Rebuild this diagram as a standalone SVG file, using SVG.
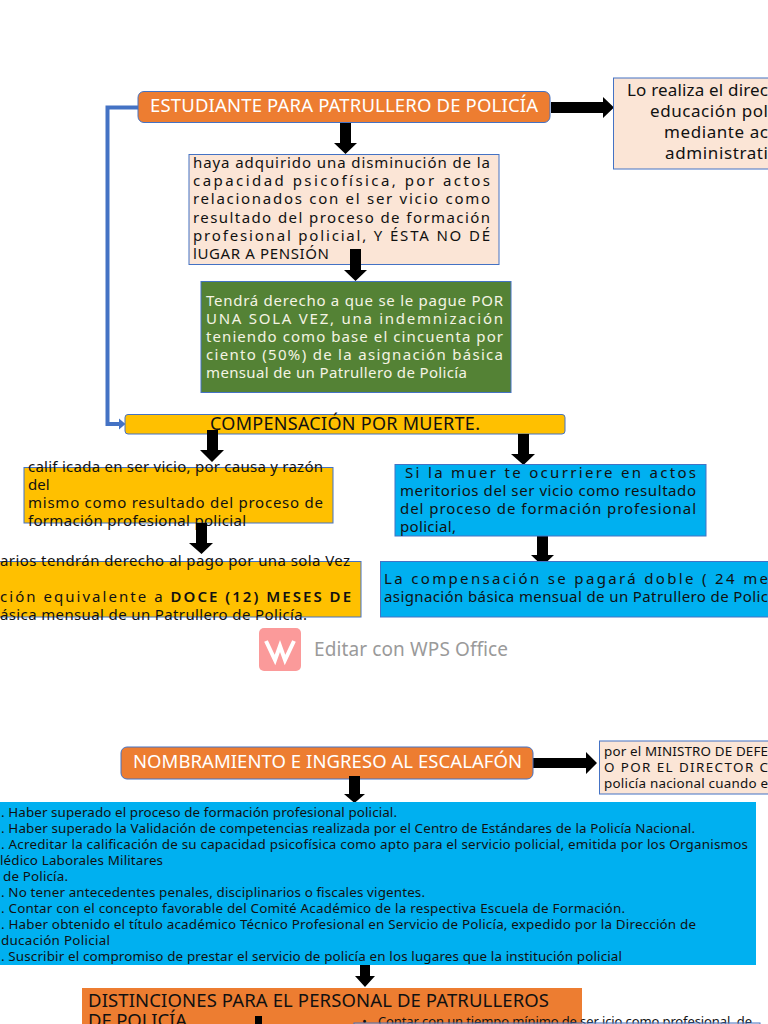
<svg xmlns="http://www.w3.org/2000/svg" width="768" height="1024" viewBox="0 0 768 1024">
<style>
text{font-family:"Noto Sans","Open Sans",sans-serif;fill:#111}
.b{stroke:#4472c4;stroke-width:1}
.t15{font-size:15px}
.t13{font-size:13.400px}
.w{fill:#f4f4e4}
.h{font-size:18.500px;fill:#fff}
.d{font-size:17px}
.arrow{fill:#000}
</style>
<rect width="768" height="1024" fill="#fff"/>
<g id="connectors">
<path d="M138 107.500H107.500V424H120" fill="none" stroke="#4472c4" stroke-width="4"/>
<path d="M119 418.500L125.500 424L119 429.500Z" fill="#4472c4"/>
<path class="arrow" d="M551 102H603V97L614 107.500L603 118V113H551Z"/>
<path class="arrow" d="M340 122H351V143H357L345.500 154L334 143H340Z"/>
<path class="arrow" d="M533 758H586V752L597 763L586 774V768H533Z"/>
<path class="arrow" d="M537 534H548V555H554L542.500 566L531 555H537Z"/>
<path class="arrow" d="M360 965H370V976H375L365 987L355 976H360Z"/>
</g>
<g id="n1"><rect class="b" x="138" y="91.500" width="412" height="31" rx="6" fill="#ed7d31"/><text class="h" x="150" y="112" textLength="388">ESTUDIANTE PARA PATRULLERO DE POLICÍA</text></g>
<g id="n2"><rect class="b" x="613.500" y="78" width="170" height="91" fill="#fbe5d6"/>
<text class="d" x="627" y="96" textLength="141">Lo realiza el direc</text>
<text class="d" x="650" y="117" textLength="118">educación pol</text>
<text class="d" x="664" y="138" textLength="104">mediante ac</text>
<text class="d" x="665" y="159" textLength="103">administrati</text></g>
<g id="n3"><rect class="b" x="189" y="154.500" width="310" height="110" fill="#fbe5d6"/>
<text class="t15" x="193" y="168" textLength="297">haya adquirido una disminución de la</text>
<text class="t15" x="193" y="186" textLength="297">capacidad psicofísica, por actos</text>
<text class="t15" x="193" y="204" textLength="297">relacionados con el ser  vicio como</text>
<text class="t15" x="193" y="223" textLength="297">resultado del proceso de formación</text>
<text class="t15" x="193" y="241" textLength="297">profesional policial, Y ÉSTA NO DÉ</text>
<text class="t15" x="193" y="259" textLength="136">lUGAR A PENSIÓN</text></g>
<path class="arrow" d="M350 249H361V270H367L355.500 281L344 270H350Z"/>
<g id="n4"><rect class="b" x="201" y="281.500" width="310" height="111" fill="#548235"/>
<text class="t15 w" x="206" y="306" textLength="297">Tendrá derecho a que se le pague POR</text>
<text class="t15 w" x="206" y="324" textLength="297">UNA SOLA VEZ, una indemnización</text>
<text class="t15 w" x="206" y="342" textLength="297">teniendo como base el cincuenta por</text>
<text class="t15 w" x="206" y="360" textLength="297">ciento (50%) de la asignación básica</text>
<text class="t15 w" x="206" y="378" textLength="261">mensual de un Patrullero de Policía</text></g>
<g id="n5"><rect class="b" x="125" y="414.500" width="440" height="19.500" rx="3" fill="#ffc000"/>
<text x="210" y="430" font-size="18" textLength="270">COMPENSACIÓN POR MUERTE.</text></g>
<g id="n6"><rect class="b" x="24" y="467.500" width="309" height="55.500" fill="#ffc000"/>
<text class="t15" x="28" y="472" textLength="295">calif icada en ser  vicio, por causa y razón</text>
<text class="t15" x="28" y="490">del</text>
<text class="t15" x="28" y="508" textLength="295">mismo como resultado del proceso de</text>
<text class="t15" x="28" y="526" textLength="218">formación profesional policial</text></g>
<path class="arrow" d="M207 430H218V450H224L212 462L200 450H207Z"/>
<path class="arrow" d="M196 523H207V543H213L201.500 554L189 543H196Z"/>
<path class="arrow" d="M518 434H529V454H535L523.500 465L511 454H518Z"/>
<g id="n7"><rect class="b" x="395" y="464.500" width="311" height="71.500" fill="#00b0f0"/>
<text class="t15" x="405" y="478" textLength="291">Si la muer te ocurriere en actos</text>
<text class="t15" x="400" y="496" textLength="296">meritorios del ser  vicio como resultado</text>
<text class="t15" x="400" y="514" textLength="296">del proceso de formación profesional</text>
<text class="t15" x="400" y="532" textLength="56">policial,</text></g>
<g id="n8"><rect class="b" x="-2" y="561.500" width="363" height="55.500" fill="#ffc000"/>
<text class="t15" x="0" y="566" textLength="350">arios tendrán derecho al pago por una sola Vez</text>
<text class="t15" x="0" y="602" textLength="351">ción equivalente a <tspan font-weight="600">DOCE (12) MESES DE</tspan></text>
<text class="t15" x="0" y="620" textLength="307">ásica mensual de un Patrullero de Policía.</text></g>
<g id="n9"><rect class="b" x="380.500" y="561.500" width="400" height="55.500" fill="#00b0f0"/>
<text class="t15" x="384" y="584" textLength="384">La compensación se pagará doble ( 24 me</text>
<text class="t15" x="384" y="602" textLength="384">asignación básica mensual de un Patrullero de Polic</text></g>
<g id="wps"><rect x="259" y="628" width="42" height="43" rx="5" fill="#fb9a9a"/>
<path d="M266 641L275 660L280 646L285 660L294 641" fill="none" stroke="#fff" stroke-width="4"/>
<text x="314" y="656" font-size="19" style="fill:#9a9a9a" textLength="194">Editar con WPS Office</text></g>
<g id="n10"><rect class="b" x="121" y="747" width="412" height="32" rx="6" fill="#ed7d31"/><text class="h" x="133" y="768" textLength="389">NOMBRAMIENTO E INGRESO AL ESCALAFÓN</text></g>
<g id="n11"><rect class="b" x="599.500" y="741" width="180" height="53" fill="#fbe5d6"/>
<text class="t13" x="604" y="756" textLength="164">por el MINISTRO DE DEFE</text>
<text class="t13" x="604" y="772" textLength="164">O POR EL DIRECTOR C</text>
<text class="t13" x="604" y="788" textLength="164">policía nacional cuando e</text></g>
<path class="arrow" d="M349 776H360V794H365L354.500 803L344 794H349Z"/>
<g id="n12"><rect x="0" y="802" width="756" height="163" fill="#00b0f0"/>
<text class="t13" x="1" y="817" textLength="396">. Haber superado el proceso de formación profesional policial.</text>
<text class="t13" x="1" y="833" textLength="694">. Haber superado la Validación de competencias realizada por el Centro de Estándares de la Policía Nacional.</text>
<text class="t13" x="1" y="849" textLength="747">. Acreditar la calificación de su capacidad psicofísica como apto para el servicio policial, emitida por los Organismos</text>
<text class="t13" x="0" y="865" textLength="163">lédico Laborales Militares</text>
<text class="t13" x="3" y="881" textLength="65">de Policía.</text>
<text class="t13" x="1" y="897" textLength="424">. No tener antecedentes penales, disciplinarios o fiscales vigentes.</text>
<text class="t13" x="1" y="913" textLength="624">. Contar con el concepto favorable del Comité Académico de la respectiva Escuela de Formación.</text>
<text class="t13" x="1" y="929" textLength="695">. Haber obtenido el título académico Técnico Profesional en Servicio de Policía, expedido por la Dirección de</text>
<text class="t13" x="1" y="945" textLength="109">ducación Policial</text>
<text class="t13" x="1" y="961" textLength="621">. Suscribir el compromiso de prestar el servicio de policía en los lugares que la institución policial</text></g>
<g id="n13"><rect x="82" y="988" width="500" height="40" fill="#ed7d31"/>
<text x="88" y="1007" font-size="18.500" textLength="461">DISTINCIONES PARA EL PERSONAL DE PATRULLEROS</text>
<text x="88" y="1027" font-size="18.500" textLength="99">DE POLICÍA</text></g>
<path class="arrow" d="M255 1016H262V1024H255Z"/>
<g id="n14">
<text x="362" y="1026" font-size="13">•</text>
<text x="378" y="1026" font-size="13" textLength="374">Contar con un tiempo mínimo de ser  icio como profesional, de</text>
<rect x="354" y="1023" width="406" height="10" fill="#fbe5d6" fill-opacity="0.4" stroke="#4472c4"/></g>
</svg>
